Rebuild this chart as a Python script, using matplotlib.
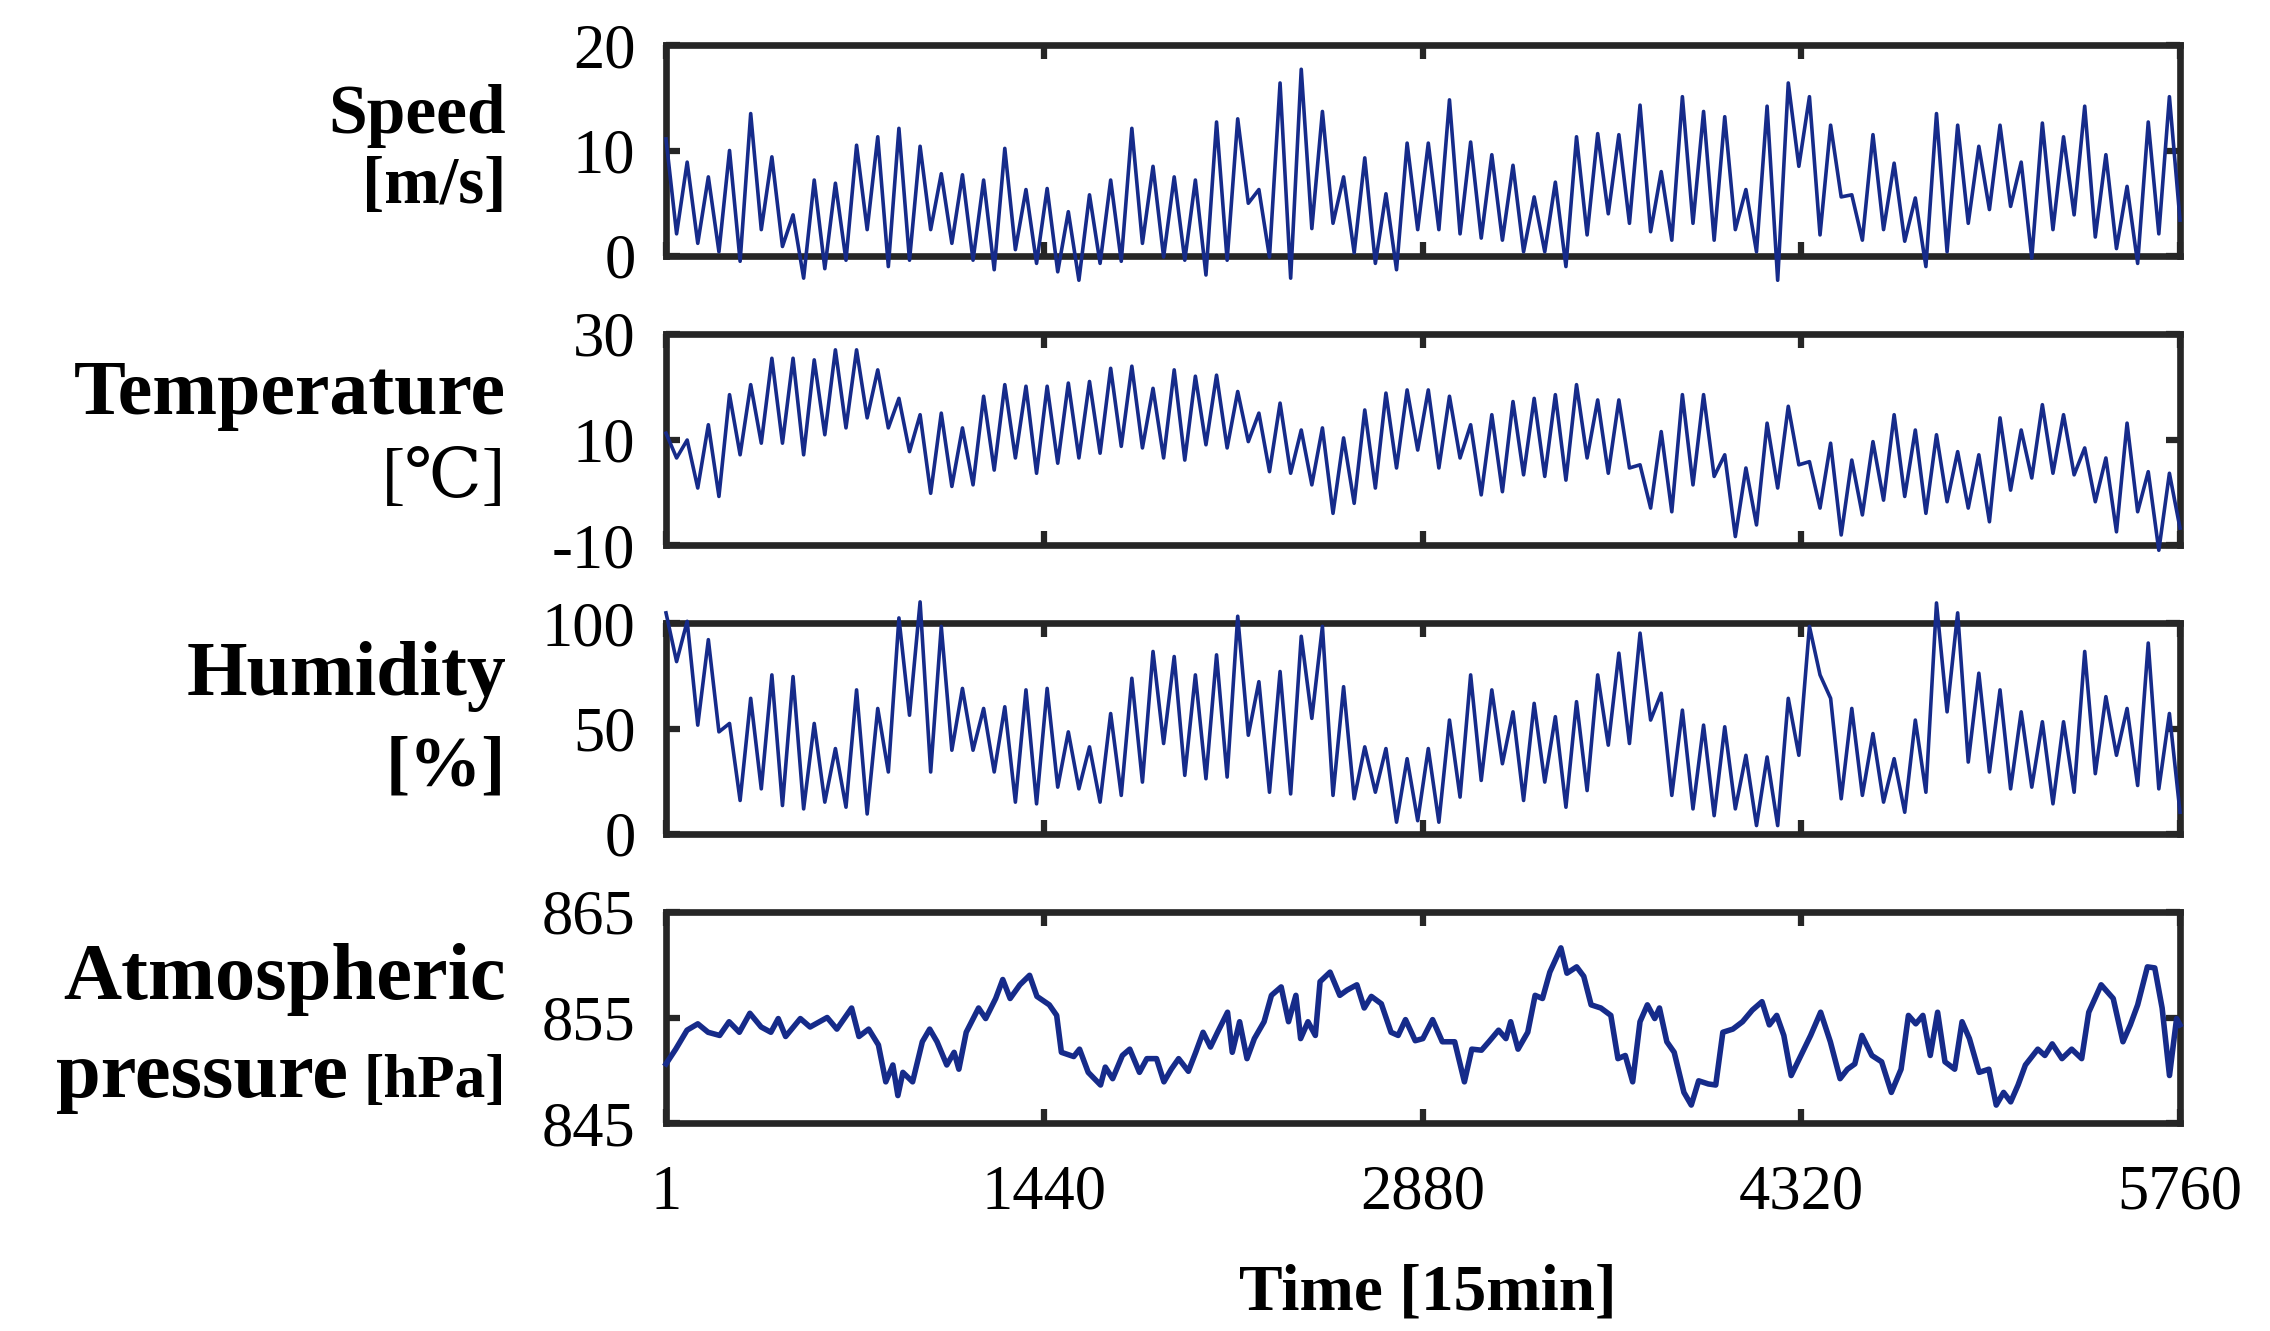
import numpy as np
import matplotlib
matplotlib.use('Agg')
import matplotlib.pyplot as plt

plt.rcParams['font.family'] = ['Liberation Serif', 'DejaVu Serif', 'DejaVu Sans']
plt.rcParams['axes.unicode_minus'] = False

# =============================================================================
# data: upper / lower edge of the noisy band per 80 steps
# =============================================================================
speed_hi = [11.1, 8.9, 7.5, 10.0, 13.5, 9.4, 3.9, 7.2, 6.9, 10.5, 11.3, 12.1,
            10.4, 7.8, 7.7, 7.2, 10.2, 6.3, 6.4, 4.2, 5.8, 7.2, 12.1, 8.5,
            7.5, 7.2, 12.7, 13.0, 6.3, 16.4, 17.7, 13.7, 7.5, 9.3, 5.9, 10.7,
            10.7, 14.8, 10.8, 9.6, 8.6, 5.6, 7.0, 11.3, 11.6, 11.5, 14.3, 8.0,
            15.1, 13.7, 13.2, 6.3, 14.2, 16.4, 15.1, 12.4, 5.8, 11.5, 8.8, 5.5,
            13.5, 12.4, 10.4, 12.4, 8.9, 12.6, 11.3, 14.2, 9.6, 6.6, 12.7, 15.1]
speed_lo = [2.1, 1.2, 0.4, -0.5, 2.5, 0.9, -2.1, -1.2, -0.4, 2.5, -1.0, -0.4,
            2.5, 1.2, -0.4, -1.3, 0.6, -0.7, -1.5, -2.3, -0.7, -0.5, 1.2, -0.1,
            -0.4, -1.8, -0.4, 5.0, -0.1, -2.1, 2.6, 3.1, 0.3, -0.7, -1.3, 2.5,
            2.5, 2.1, 1.7, 1.5, 0.4, 0.4, -1.0, 2.0, 4.0, 3.1, 2.3, 1.5,
            3.1, 1.5, 2.5, 0.4, -2.3, 8.5, 2.0, 5.6, 1.5, 2.5, 1.4, -1.0,
            0.4, 3.1, 4.4, 4.7, -0.2, 2.5, 3.9, 1.8, 0.7, -0.7, 2.1, 3.4]

temp_hi = [11.2, 9.9, 12.8, 18.5, 20.4, 25.4, 25.4, 25.1, 27.0, 27.0, 23.2, 17.8,
           14.7, 15.0, 12.2, 18.2, 20.4, 20.1, 20.1, 20.7, 21.0, 23.5, 23.9, 19.7,
           23.2, 22.0, 22.2, 19.1, 15.0, 16.9, 11.8, 12.2, 10.3, 15.6, 18.8, 19.4,
           19.4, 18.2, 12.8, 14.7, 17.2, 17.8, 18.5, 20.4, 17.5, 17.5, 5.2, 11.5,
           18.5, 18.5, 7.1, 4.6, 13.1, 16.3, 5.8, 9.3, 6.1, 9.6, 14.7, 11.8,
           10.9, 7.7, 7.1, 14.1, 11.8, 16.6, 14.7, 8.4, 6.5, 13.1, 3.9, 3.6]
temp_lo = [6.5, 0.8, -0.8, 7.1, 9.3, 9.3, 7.1, 10.9, 12.2, 14.1, 12.2, 7.7,
           -0.2, 1.1, 1.4, 4.2, 6.5, 3.6, 5.5, 6.5, 7.4, 8.7, 8.4, 6.5,
           6.1, 9.0, 8.4, 9.6, 3.9, 3.6, 1.4, -4.0, -2.1, 0.8, 4.6, 8.0,
           4.6, 6.5, -0.5, 0.1, 3.3, 3.0, 2.3, 6.5, 3.6, 4.6, -3.0, -3.7,
           1.4, 3.0, -8.4, -6.2, 0.8, 5.2, -3.0, -8.1, -4.3, -1.5, -0.8, -4.0,
           -1.8, -3.0, -5.6, 0.4, 2.7, 3.6, 3.3, -1.8, -7.5, -3.7, -11.0, -6.8]

hum_hi = [104.8, 100.8, 92.1, 52.4, 64.3, 75.4, 74.6, 52.4, 40.5, 68.3, 59.5, 102.4,
          110.0, 98.4, 69.0, 59.5, 60.3, 68.3, 69.0, 48.4, 41.3, 57.1, 73.8, 86.5,
          84.1, 75.4, 84.9, 103.2, 72.2, 77.0, 93.7, 98.4, 69.8, 41.3, 40.5, 35.7,
          40.5, 54.0, 75.4, 68.3, 57.9, 61.9, 55.6, 62.7, 75.4, 85.7, 95.2, 66.7,
          58.7, 51.6, 50.8, 37.3, 36.5, 64.3, 98.4, 64.3, 59.5, 47.6, 35.7, 54.0,
          109.5, 104.8, 76.2, 68.3, 57.9, 53.2, 53.2, 86.5, 65.1, 59.5, 90.5, 57.1]
hum_lo = [81.7, 51.6, 48.4, 15.9, 21.4, 13.5, 11.9, 15.1, 12.7, 9.5, 29.4, 56.3,
          29.4, 39.7, 39.7, 29.4, 15.1, 14.3, 22.2, 21.4, 15.1, 18.3, 24.6, 42.9,
          27.8, 26.2, 27.0, 46.8, 19.8, 19.0, 54.8, 18.3, 16.7, 19.8, 5.6, 6.3,
          5.6, 17.5, 25.4, 33.3, 15.9, 24.6, 12.7, 20.6, 42.1, 42.9, 54.0, 18.3,
          11.9, 8.7, 11.9, 4.0, 4.0, 37.3, 75.4, 16.7, 18.3, 15.1, 10.3, 19.8,
          57.9, 34.1, 29.4, 21.4, 22.2, 14.3, 19.8, 28.6, 37.3, 23.0, 21.4, 10.3]

# pressure is smoother, read as (time step, value) pairs
pres_t = [1, 38, 81, 122, 161, 205, 241, 280, 320, 363, 400, 428, 456, 512, 549,
          614, 651, 707, 735, 772, 809, 837, 864, 883, 902, 939, 976, 1004, 1032,
          1069, 1097, 1115, 1143, 1190, 1217, 1255, 1282, 1310, 1347, 1384, 1412,
          1459, 1487, 1505, 1552, 1574, 1607, 1654, 1672, 1700, 1737, 1765, 1802,
          1830, 1867, 1895, 1923, 1951, 1988, 2016, 2044, 2072, 2099, 2137, 2155,
          2183, 2211, 2239, 2276, 2304, 2341, 2369, 2397, 2415, 2443, 2471, 2489,
          2527, 2564, 2592, 2629, 2657, 2684, 2722, 2759, 2786, 2814, 2851, 2880,
          2917, 2954, 3001, 3038, 3066, 3103, 3131, 3168, 3196, 3214, 3242, 3279,
          3307, 3335, 3363, 3405, 3428, 3465, 3492, 3520, 3557, 3595, 3622, 3650,
          3678, 3706, 3734, 3762, 3780, 3808, 3836, 3873, 3901, 3929, 3966, 3994,
          4021, 4059, 4096, 4133, 4170, 4198, 4226, 4253, 4281, 4318, 4355, 4393,
          4430, 4467, 4495, 4523, 4550, 4588, 4625, 4662, 4699, 4727, 4755, 4782,
          4810, 4838, 4866, 4903, 4931, 4959, 4996, 5033, 5061, 5089, 5116, 5144,
          5172, 5219, 5246, 5274, 5311, 5348, 5386, 5413, 5460, 5506, 5543, 5571,
          5599, 5636, 5664, 5692, 5720, 5747, 5760]
pres_v = [850.6, 852.0, 853.8, 854.4, 853.6, 853.3, 854.6, 853.6, 855.4, 854.1,
          853.6, 854.9, 853.2, 854.9, 854.1, 855.0, 853.9, 855.9, 853.2, 853.9,
          852.4, 848.9, 850.5, 847.6, 849.8, 848.9, 852.7, 853.9, 852.7, 850.5,
          851.7, 850.1, 853.6, 855.9, 854.9, 856.8, 858.6, 856.8, 858.1, 859.0,
          857.0, 856.2, 855.2, 851.7, 851.3, 852.0, 849.8, 848.6, 850.3, 849.2,
          851.4, 852.0, 849.8, 851.1, 851.1, 848.9, 850.1, 851.1, 849.9, 851.7,
          853.6, 852.2, 853.6, 855.5, 851.7, 854.6, 851.1, 853.0, 854.6, 857.1,
          857.9, 854.6, 857.1, 853.0, 854.6, 853.3, 858.4, 859.3, 857.1, 857.6,
          858.1, 855.9, 857.0, 856.3, 853.6, 853.3, 854.8, 852.8, 853.0,
          854.8, 852.7, 852.7, 848.9, 852.0, 851.9, 852.7, 853.8, 853.0, 854.6,
          852.0, 853.6, 857.1, 856.8, 859.3, 861.6, 859.2, 859.8, 858.9, 856.2,
          855.9, 855.2, 851.1, 851.4, 848.9, 854.6, 856.2, 854.9, 855.9, 852.7,
          851.7, 847.9, 846.7, 849.0, 848.7, 848.6, 853.6, 853.9, 854.6, 855.7,
          856.5, 854.3, 855.2, 853.3, 849.5, 851.4, 853.3, 855.5, 852.7, 849.2,
          850.1, 850.6, 853.3, 851.4, 850.8, 847.9, 850.1, 855.2, 854.4, 855.2,
          851.4, 855.5, 850.8, 850.1, 854.6, 853.0, 849.8, 850.1, 846.7, 847.9,
          847.0, 848.6, 850.5, 852.0, 851.4, 852.5, 851.1, 852.0, 851.1, 855.5,
          858.1, 856.8, 852.7, 854.3, 856.2, 859.8, 859.7, 855.9, 849.5, 854.9,
          854.3]

xticks = [1, 1440, 2880, 4320, 5760]
line_c = '#162B8A'
frame_c = '#262626'

# =============================================================================
# figure
# =============================================================================
fig = plt.figure(figsize=(22.7, 13.31), dpi=100)
W, H = 2270.0, 1331.0
left, width = 666 / W, 1514 / W
tops = [45, 334, 623, 912]
hgt = 211

bands = [(speed_hi, speed_lo), (temp_hi, temp_lo), (hum_hi, hum_lo), None]
ylims = [(0, 20), (-10, 30), (0, 100), (845, 865)]
yticks = [[0, 10, 20], [-10, 10, 30], [0, 50, 100], [845, 855, 865]]

for i in range(4):
    ax = fig.add_axes([left, 1 - (tops[i] + hgt) / H, width, hgt / H])
    if bands[i] is not None:
        hi, lo = bands[i]
        # noisy signal: zigzag between the upper and lower edge of each bin
        t = np.linspace(1, 5760, 2 * len(hi))
        y = np.column_stack([hi, lo]).ravel()
        ax.plot(t, y, color=line_c, lw=2.6, clip_on=False, zorder=3)
    else:
        ax.plot(pres_t, pres_v, color=line_c, lw=4.0, clip_on=False, zorder=3)
    ax.set_xlim(1, 5760)
    ax.set_ylim(*ylims[i])
    ax.set_xticks(xticks)
    ax.set_yticks(yticks[i])
    ax.tick_params(direction='in', length=10, width=4.5, color=frame_c,
                   top=True, right=True, labelsize=45, pad=22)
    for s in ax.spines.values():
        s.set_linewidth(4.8)
        s.set_color(frame_c)
    if i < 3:
        ax.tick_params(labelbottom=False)
    else:
        ax.tick_params(axis='x', pad=30)

# row labels
xr = 506 / W
def lab(s, ypx, size, x=xr, weight='bold'):
    fig.text(x, 1 - ypx / H, s, ha='right', va='baseline', fontsize=size,
             fontweight=weight)

lab('Speed', 133, 50)
lab('[m/s]', 203, 48)
lab('Temperature', 414, 56)
lab('[℃]', 497, 50, weight='normal')
lab('Humidity', 695, 56)
lab('[%]', 786, 52)
lab('Atmospheric', 999, 58)
lab('pressure', 1097, 58, x=348 / W)
lab('[hPa]', 1097, 44)

fig.text(1428 / W, 1 - 1310 / H, 'Time [15min]', ha='center', va='baseline',
         fontsize=47, fontweight='bold')

fig.savefig('out.png', dpi=100)
